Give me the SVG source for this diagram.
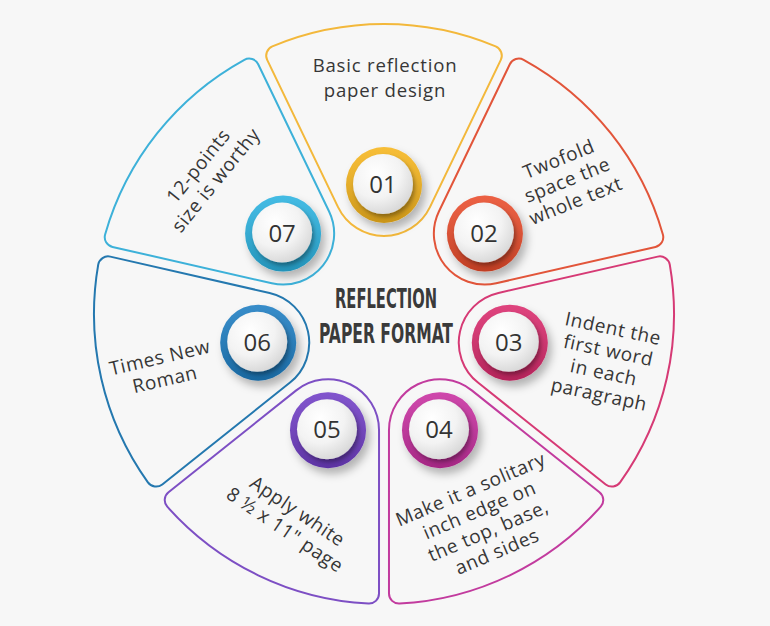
<svg xmlns="http://www.w3.org/2000/svg" xmlns:xlink="http://www.w3.org/1999/xlink" width="770" height="626" viewBox="0 0 770 626">
<style>
.seg{fill:none;stroke-width:2}
.s1{stroke:#F3B83B}.s2{stroke:#E2553A}.s3{stroke:#D63A75}.s4{stroke:#C23B9E}.s5{stroke:#7D4FC4}.s6{stroke:#2478AF}.s7{stroke:#3DB1D9}
.t{font-family:"Open Sans","Noto Sans",sans-serif;font-size:19px;letter-spacing:0.6px;fill:#363636;text-anchor:middle}
.t1{font-size:18.6px;letter-spacing:0.8px}
.num{font-family:"Open Sans","Noto Sans",sans-serif;font-size:24px;fill:#333;text-anchor:middle}
.title{font-family:"DejaVu Sans Condensed","DejaVu Sans",sans-serif;font-weight:bold;font-size:27px;fill:#3a3a3a;text-anchor:middle}
</style>
<defs>
<path id="seg" d="M -45.95,-106.87 L -116.82,-254.08 A 10 10 0 0 1 -111.66,-267.65 A 290 290 0 0 1 111.66,-267.65 A 10 10 0 0 1 116.82,-254.08 L 45.95,-106.87 A 51 51 0 0 1 -45.95,-106.87 Z"/>
<filter id="sh" x="-50%" y="-50%" width="200%" height="200%">
<feDropShadow dx="4" dy="6" stdDeviation="4.5" flood-color="#000" flood-opacity="0.28"/>
</filter>
<filter id="sh2" x="-50%" y="-50%" width="200%" height="200%">
<feDropShadow dx="2" dy="3" stdDeviation="2" flood-color="#000" flood-opacity="0.35"/>
</filter>
<radialGradient id="wg" cx="38%" cy="32%" r="75%">
<stop offset="0" stop-color="#ffffff"/>
<stop offset="0.55" stop-color="#f3f3f3"/>
<stop offset="1" stop-color="#d4d4d4"/>
</radialGradient>
<linearGradient id="shade" x1="0" y1="0" x2="0" y2="1">
<stop offset="0" stop-color="#fff" stop-opacity="0.12"/>
<stop offset="1" stop-color="#000" stop-opacity="0.18"/>
</linearGradient>
</defs>
<rect width="770" height="626" fill="#F7F7F7"/>

<g id="connectors"></g>

<g id="n01">
<use href="#seg" class="seg s1" transform="translate(384,314)"/>
<g transform="translate(384,185)">
<circle r="38" fill="#F6B51E" filter="url(#sh)"/><circle r="38" fill="url(#shade)"/>
<circle r="30" cx="-1" cy="-1" fill="url(#wg)" filter="url(#sh2)"/>
<text class="num" x="-1" y="8">01</text>
</g>
<text class="t t1" x="385" y="71.5">Basic reflection</text>
<text class="t t1" x="385" y="97">paper design</text>
</g>

<g id="n02">
<use href="#seg" class="seg s2" transform="translate(384,314) rotate(51.4286)"/>
<g transform="translate(484.9,233.6)">
<circle r="38" fill="#E94B2B" filter="url(#sh)"/><circle r="38" fill="url(#shade)"/>
<circle r="30" cx="-1" cy="-1" fill="url(#wg)" filter="url(#sh2)"/>
<text class="num" x="-1" y="8">02</text>
</g>
<g transform="translate(567.5,180.5) rotate(-22)">
<text class="t" y="-16.5">Twofold</text>
<text class="t" y="6">space the</text>
<text class="t" y="28.5">whole text</text>
</g>
</g>

<g id="n03">
<use href="#seg" class="seg s3" transform="translate(384,314) rotate(102.8571)"/>
<g transform="translate(509.8,342.7)">
<circle r="38" fill="#DA2A6C" filter="url(#sh)"/><circle r="38" fill="url(#shade)"/>
<circle r="30" cx="-1" cy="-1" fill="url(#wg)" filter="url(#sh2)"/>
<text class="num" x="-1" y="8">03</text>
</g>
<g transform="translate(606,362) rotate(12)">
<text class="t" y="-27.75">Indent the</text>
<text class="t" y="-5.25">first word</text>
<text class="t" y="17.25">in each</text>
<text class="t" y="39.75">paragraph</text>
</g>
</g>

<g id="n04">
<use href="#seg" class="seg s4" transform="translate(384,314) rotate(154.2857)"/>
<g transform="translate(440,430.2)">
<circle r="38" fill="#C82DA0" filter="url(#sh)"/><circle r="38" fill="url(#shade)"/>
<circle r="30" cx="-1" cy="-1" fill="url(#wg)" filter="url(#sh2)"/>
<text class="num" x="-1" y="8">04</text>
</g>
<g transform="translate(484,521) rotate(-23)">
<text class="t" y="-27.75">Make it a solitary</text>
<text class="t" y="-5.25">inch edge on</text>
<text class="t" y="17.25">the top, base,</text>
<text class="t" y="39.75">and sides</text>
</g>
</g>

<g id="n05">
<use href="#seg" class="seg s5" transform="translate(384,314) rotate(205.7143)"/>
<g transform="translate(328,430.2)">
<circle r="38" fill="#6F3CC6" filter="url(#sh)"/><circle r="38" fill="url(#shade)"/>
<circle r="30" cx="-1" cy="-1" fill="url(#wg)" filter="url(#sh2)"/>
<text class="num" x="-1" y="8">05</text>
</g>
<g transform="translate(291,521) rotate(34)">
<text class="t" y="-5.25">Apply white</text>
<text class="t" y="17.25">8 ½ x 11&quot; page</text>
</g>
</g>

<g id="n06">
<use href="#seg" class="seg s6" transform="translate(384,314) rotate(257.1429)"/>
<g transform="translate(258.2,342.7)">
<circle r="38" fill="#1F7DC2" filter="url(#sh)"/><circle r="38" fill="url(#shade)"/>
<circle r="30" cx="-1" cy="-1" fill="url(#wg)" filter="url(#sh2)"/>
<text class="num" x="-1" y="8">06</text>
</g>
<g transform="translate(162.5,369) rotate(-13)">
<text class="t" y="-5.25">Times New</text>
<text class="t" y="17.25">Roman</text>
</g>
</g>

<g id="n07">
<use href="#seg" class="seg s7" transform="translate(384,314) rotate(308.5714)"/>
<g transform="translate(283.1,233.6)">
<circle r="38" fill="#2BB2E0" filter="url(#sh)"/><circle r="38" fill="url(#shade)"/>
<circle r="30" cx="-1" cy="-1" fill="url(#wg)" filter="url(#sh2)"/>
<text class="num" x="-1" y="8">07</text>
</g>
<g transform="translate(207.5,173.3) rotate(-51)">
<text class="t" y="-5.25">12-points</text>
<text class="t" y="17.25">size is worthy</text>
</g>
</g>

<g id="title">
<text class="title" transform="translate(386,308) scale(0.62,1)" textLength="164.5" lengthAdjust="spacingAndGlyphs">REFLECTION</text>
<text class="title" transform="translate(386,343) scale(0.62,1)" textLength="216" lengthAdjust="spacingAndGlyphs">PAPER FORMAT</text>
</g>
</svg>
